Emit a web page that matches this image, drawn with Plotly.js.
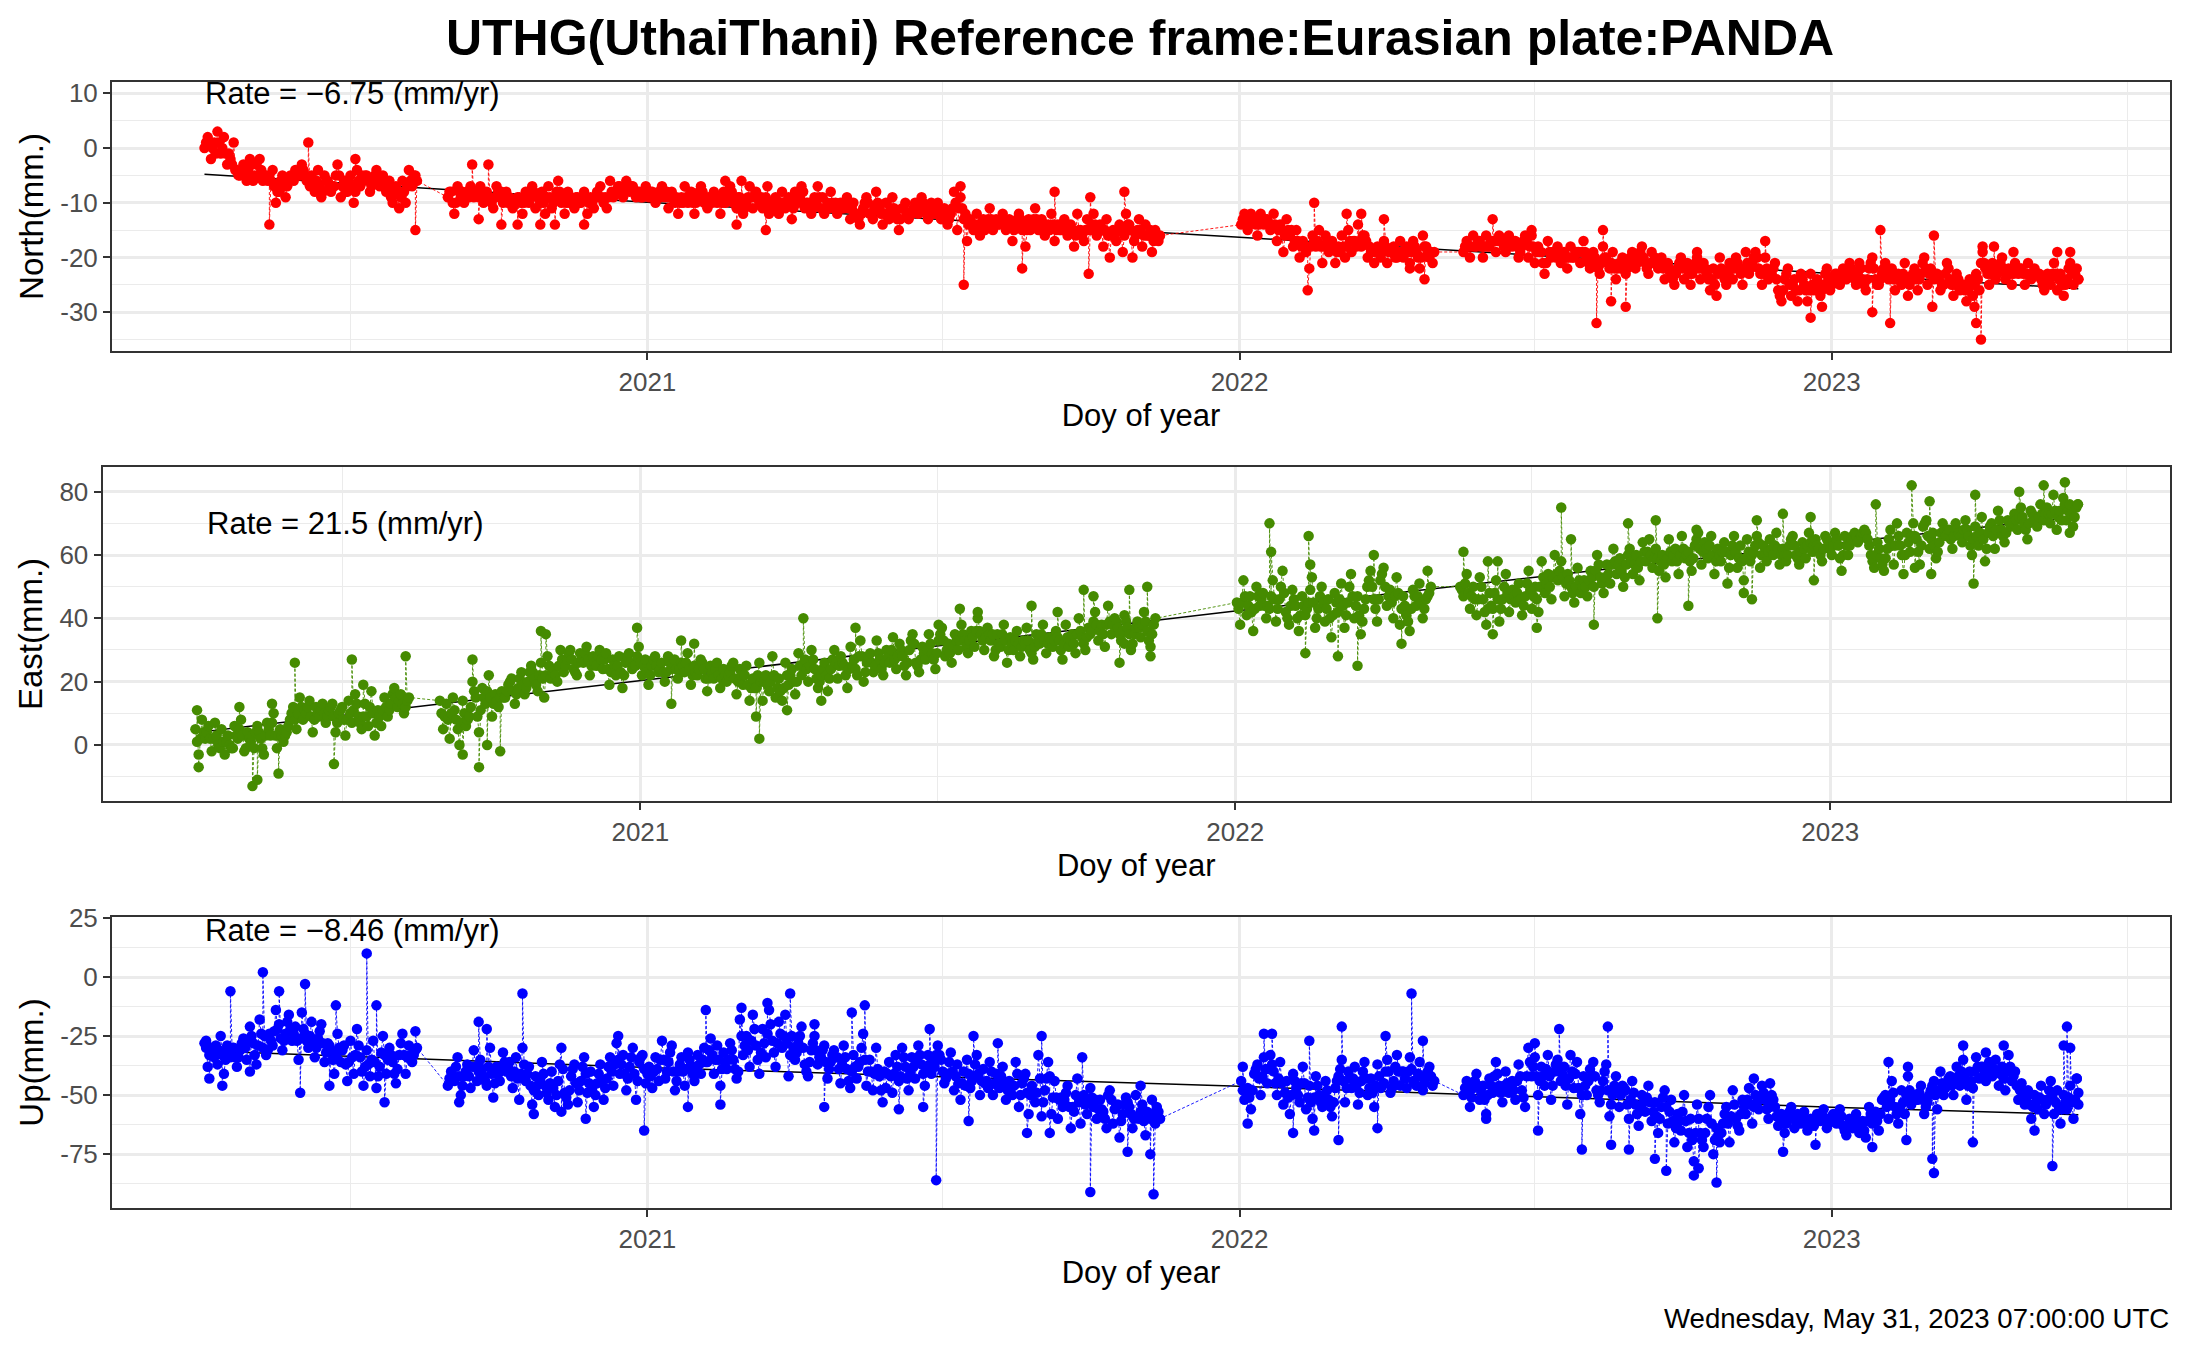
<!DOCTYPE html>
<html><head><meta charset="utf-8">
<script src="https://cdn.plot.ly/plotly-3.0.1.min.js"></script>
<style>html,body{margin:0;padding:0;background:#fff}</style></head>
<body><div id="chart" style="width:2187px;height:1350px"></div>
<script>
// x values: day number counted from 2020-01-01 = day 1
const days = [
93,95,97,99,101,103,105,107,109,111,
113,115,117,119,121,123,125,127,129,131,
133,135,137,139,141,143,145,147,149,151,
153,155,157,159,161,163,165,167,169,171,
173,175,177,179,181,183,185,187,189,191,
193,195,197,199,201,203,205,207,209,211,
213,215,217,219,221,223,
243,245,247,249,251,253,255,257,259,261,
263,265,267,269,271,273,275,277,279,281,
283,285,287,289,291,293,295,297,299,301,
303,305,307,309,311,313,315,317,319,321,
323,325,327,329,331,333,335,337,339,341,
343,345,347,349,351,353,355,357,359,361,
363,365,367,369,371,373,375,377,379,381,
383,385,387,389,391,393,395,397,399,401,
403,405,407,409,411,413,415,417,419,421,
423,425,427,429,431,433,435,437,439,441,
443,445,447,449,451,453,455,457,459,461,
463,465,467,469,471,473,475,477,479,481,
483,485,487,489,491,493,495,497,499,501,
503,505,507,509,511,513,515,517,519,521,
523,525,527,529,531,533,535,537,539,541,
543,545,547,549,551,553,555,557,559,561,
563,565,567,569,571,573,575,577,579,581,
583,585,587,589,591,593,595,597,599,601,
603,605,607,609,611,613,615,617,619,621,
623,625,627,629,631,633,635,637,639,641,
643,645,647,649,651,653,655,657,659,661,
663,665,667,669,671,673,675,677,679,681,
732,734,736,738,740,742,744,746,748,750,
752,754,756,758,760,762,764,766,768,770,
772,774,776,778,780,782,784,786,788,790,
792,794,796,798,800,802,804,806,808,810,
812,814,816,818,820,822,824,826,828,830,
832,834,836,838,840,842,844,846,848,850,
869,871,873,875,877,879,881,883,885,887,
889,891,893,895,897,899,901,903,905,907,
909,911,913,915,917,919,921,923,925,927,
929,931,933,935,937,939,941,943,945,947,
949,951,953,955,957,959,961,963,965,967,
969,971,973,975,977,979,981,983,985,987,
989,991,993,995,997,999,1001,1003,1005,1007,
1009,1011,1013,1015,1017,1019,1021,1023,1025,1027,
1029,1031,1033,1035,1037,1039,1041,1043,1045,1047,
1049,1051,1053,1055,1057,1059,1061,1063,1065,1067,
1069,1071,1073,1075,1077,1079,1081,1083,1085,1087,
1089,1091,1093,1095,1097,1099,1101,1103,1105,1107,
1109,1111,1113,1115,1117,1119,1121,1123,1125,1127,
1129,1131,1133,1135,1137,1139,1141,1143,1145,1147,
1149,1151,1153,1155,1157,1159,1161,1163,1165,1167,
1169,1171,1173,1175,1177,1179,1181,1183,1185,1187,
1189,1191,1193,1195,1197,1199,1201,1203,1205,1207,
1209,1211,1213,1215,1217,1219,1221,1223,1225,1227,
1229,1231,1233,1235,1237,1239,1241,1243,1245,1247];

const north = [
0,2,-2,1,3,-1,2,-3,-2,1,
-4,-5,-3,-6,-2,-6,-3,-2,-6,-5,
-5,-4,-10,-8,-5,-9,-6,-5,-4,-5,
-3,-5,-6,-5,-8,-4,-9,-5,-6,-8,
-7,-3,-9,-6,-8,-5,-10,-4,-7,-6,
-5,-8,-6,-4,-7,-5,-8,-6,-10,-7,
-11,-6,-10,-4,-7,-5,
-9,-8,-12,-7,-9,-10,-8,-7,-9,-8,
-7,-10,-8,-9,-11,-7,-9,-10,-8,-9,
-11,-10,-9,-12,-8,-10,-7,-11,-9,-8,
-12,-7,-11,-9,-6,-10,-12,-8,-9,-11,
-9,-10,-8,-12,-9,-11,-8,-7,-10,-11,
-6,-9,-8,-7,-9,-6,-8,-7,-9,-8,
-9,-7,-9,-8,-10,-8,-7,-9,-11,-8,
-10,-12,-9,-7,-10,-8,-12,-9,-7,-10,
-11,-9,-8,-10,-12,-8,-9,-7,-10,-11,
-9,-12,-10,-7,-11,-8,-10,-11,-9,-12,
-10,-9,-12,-8,-11,-9,-13,-8,-10,-7,
-11,-10,-12,-9,-7,-11,-12,-10,-8,-11,
-12,-10,-11,-9,-13,-10,-12,-14,-11,-9,
-12,-13,-8,-11,-14,-10,-13,-9,-12,-15,
-11,-10,-13,-12,-10,-12,-9,-11,-13,-10,
-12,-10,-13,-11,-14,-12,-8,-15,-9,-13,
-17,-13,-15,-12,-16,-13,-14,-11,-15,-13,
-14,-12,-15,-13,-17,-14,-12,-15,-18,-13,
-14,-11,-15,-13,-16,-14,-12,-17,-14,-15,
-13,-16,-14,-18,-12,-15,-17,-13,-15,-12,
-16,-14,-18,-13,-20,-15,-17,-14,-19,-12,
-14,-20,-16,-13,-18,-14,-16,-19,-15,-17,
-14,-12,-15,-12,-13,-16,-12,-14,-13,-15,
-12,-17,-14,-19,-13,-16,-18,-15,-20,-17,
-19,-22,-16,-18,-15,-21,-16,-19,-17,-21,
-18,-16,-20,-15,-19,-17,-14,-18,-16,-20,
-19,-21,-18,-20,-17,-21,-19,-18,-20,-17,
-20,-18,-21,-17,-19,-22,-16,-18,-20,-21,
-19,-17,-20,-16,-18,-17,-20,-16,-18,-17,
-19,-16,-17,-19,-16,-18,-17,-20,-18,-16,
-20,-16,-21,-18,-19,-23,-17,-20,-19,-18,
-21,-19,-22,-18,-20,-19,-21,-17,-20,-22,
-19,-21,-23,-18,-20,-22,-19,-24,-21,-20,
-23,-21,-19,-22,-20,-18,-21,-23,-19,-20,
-22,-20,-24,-21,-23,-25,-22,-20,-24,-21,
-25,-22,-20,-24,-21,-23,-26,-22,-27,-20,
-23,-25,-21,-24,-20,-22,-25,-19,-23,-21,
-19,-22,-25,-20,-24,-23,-21,-26,-28,-24,
-22,-27,-24,-28,-23,-25,-28,-23,-26,-24,
-27,-25,-22,-26,-24,-23,-25,-22,-24,-21,
-23,-25,-21,-24,-26,-22,-20,-24,-25,-23,
-21,-24,-22,-26,-23,-25,-21,-27,-24,-22,
-26,-23,-20,-25,-22,-24,-23,-26,-25,-21,
-24,-27,-23,-26,-25,-28,-24,-27,-23,-26,
-19,-22,-25,-21,-24,-22,-20,-24,-22,-25,
-21,-23,-22,-25,-21,-24,-22,-23,-24,-26,
-23,-25,-21,-26,-23,-27,-24,-21,-25,-22];

const east = [
5,-3,8,2,6,-2,7,0,5,-3,
3,-1,6,2,8,-2,4,1,-1,6,
2,-3,7,3,10,-1,5,1,4,8,
12,5,15,8,10,14,4,12,9,13,
7,11,13,4,10,12,3,14,7,16,
9,5,13,6,17,3,11,6,15,9,
13,18,12,16,10,14,
14,5,13,2,15,8,0,14,6,9,
20,15,4,18,13,22,9,16,12,17,
15,19,21,13,18,23,16,20,25,21,
17,26,15,28,21,24,20,30,23,27,
30,24,22,29,26,31,22,28,25,30,
24,29,19,27,22,28,18,26,29,24,
25,31,22,27,19,25,28,23,26,20,
28,24,27,21,26,23,29,19,25,22,
27,24,17,25,21,26,18,24,20,23,
26,16,24,19,25,14,21,18,26,14,
22,17,28,15,21,14,26,19,24,16,
29,22,27,20,30,24,18,22,26,17,
24,30,21,28,25,18,31,27,22,33,
20,26,29,23,33,27,22,30,26,34,
24,32,28,22,30,35,26,23,31,27,
35,29,24,33,37,28,32,26,35,30,
38,33,29,36,31,40,35,30,37,33,
28,35,31,38,26,34,30,36,28,33,
37,30,27,35,32,38,29,34,31,36,
33,27,38,31,35,29,40,34,30,37,
36,42,33,38,31,44,35,40,37,33,
41,37,30,35,39,34,42,36,31,38,
45,38,52,41,47,36,50,44,48,40,
43,52,39,46,55,42,38,49,44,36,
47,41,45,53,37,43,50,39,46,34,
48,42,51,37,45,54,40,47,35,43,
50,55,46,39,52,56,44,49,40,53,
38,47,41,36,49,44,51,40,46,48,
50,47,54,43,50,41,53,46,38,48,
43,52,39,46,54,42,49,45,51,41,
47,55,43,50,42,58,48,54,46,60,
52,58,47,54,50,45,56,48,52,47,
55,50,60,53,48,57,51,62,54,59,
50,57,62,54,60,52,64,58,65,56,
62,55,60,53,65,58,62,54,66,59,
61,55,63,67,57,64,59,66,54,62,
58,64,51,60,66,56,63,52,65,58,
61,66,56,63,58,65,60,67,57,62,
58,63,66,60,57,64,59,67,61,65,
62,58,66,64,60,67,63,55,66,60,
65,67,64,66,68,65,60,56,64,59,
55,62,68,57,70,63,54,67,61,70,
65,57,69,71,62,67,59,64,70,66,
68,62,70,67,64,71,66,60,69,63,
72,58,67,70,62,74,68,64,71,69,
73,68,75,70,65,74,72,69,76,71,
75,70,79,68,74,78,71,76,69,75];

const up = [
-28,-38,-30,-34,-37,-25,-41,-29,-34,-30,
-38,-31,-26,-35,-21,-28,-37,-18,-30,-33,
-24,-29,-14,-20,-31,-24,-16,-27,-21,-35,
-15,-24,-30,-19,-34,-26,-20,-36,-28,-31,
-41,-24,-36,-29,-44,-27,-41,-22,-34,-46,
-31,-42,-27,-47,-38,-25,-41,-30,-36,-45,
-33,-24,-41,-29,-36,-31,
-46,-40,-44,-34,-50,-42,-37,-47,-31,-44,
-35,-42,-46,-30,-51,-38,-44,-32,-40,-36,
-47,-34,-52,-30,-44,-38,-54,-42,-50,-36,
-46,-52,-40,-55,-44,-30,-49,-54,-42,-37,
-53,-44,-34,-49,-40,-55,-45,-37,-52,-43,
-34,-46,-28,-41,-33,-48,-38,-30,-52,-36,
-33,-45,-38,-47,-34,-44,-27,-43,-36,-29,
-48,-40,-34,-46,-32,-38,-44,-33,-41,-30,
-36,-26,-41,-29,-46,-32,-39,-28,-35,-43,
-18,-33,-25,-38,-16,-29,-41,-22,-34,-14,
-27,-38,-19,-30,-16,-42,-25,-35,-28,-21,
-37,-42,-31,-25,-37,-34,-29,-43,-36,-31,
-34,-45,-29,-39,-47,-33,-43,-36,-24,-46,
-35,-48,-30,-42,-53,-47,-36,-49,-33,-44,
-30,-38,-48,-34,-43,-29,-37,-46,-33,-41,
-38,-29,-35,-45,-41,-32,-48,-37,-52,-40,
-35,-47,-42,-33,-50,-39,-44,-36,-50,-41,
-47,-38,-52,-44,-50,-36,-55,-45,-41,-58,
-46,-53,-33,-59,-48,-36,-58,-44,-60,-51,
-52,-46,-64,-57,-43,-62,-50,-58,-47,-55,
-60,-52,-57,-64,-48,-62,-55,-68,-58,-51,
-55,-64,-50,-60,-54,-67,-58,-52,-62,-57,
-44,-52,-47,-56,-41,-37,-50,-34,-45,-33,
-40,-50,-36,-54,-44,-58,-41,-47,-53,-38,
-56,-46,-60,-42,-50,-55,-44,-52,-59,-47,
-42,-35,-53,-40,-47,-38,-54,-44,-36,-50,
-43,-55,-37,-47,-45,-35,-49,-44,-33,-46,
-40,-47,-34,-44,-46,-36,-48,-42,-38,-46,
-50,-44,-55,-47,-41,-52,-46,-58,-43,-49,
-36,-46,-53,-40,-49,-44,-52,-37,-48,-55,
-30,-42,-34,-50,-38,-46,-33,-52,-40,-35,
-44,-38,-54,-33,-47,-36,-58,-42,-50,-39,
-36,-48,-53,-44,-37,-59,-50,-42,-55,-46,
-48,-60,-44,-54,-63,-50,-57,-46,-61,-53,
-66,-55,-48,-62,-52,-70,-58,-65,-50,-72,
-60,-78,-54,-66,-72,-60,-50,-75,-64,-70,
-62,-55,-70,-48,-60,-65,-52,-58,-47,-62,
-50,-56,-46,-52,-60,-50,-55,-63,-58,-66,
-60,-55,-64,-58,-62,-57,-65,-60,-63,-58,
-61,-56,-64,-60,-58,-62,-56,-63,-67,-60,
-64,-58,-66,-61,-68,-55,-62,-57,-65,-52,
-50,-60,-44,-55,-62,-48,-58,-42,-54,-50,
-52,-46,-58,-53,-48,-44,-56,-40,-50,-45,
-42,-50,-38,-46,-35,-52,-40,-47,-34,-43,
-38,-44,-36,-42,-35,-46,-38,-48,-33,-44,
-40,-52,-45,-54,-48,-60,-50,-56,-46,-58,
-52,-44,-58,-48,-62,-50,-56,-46,-60,-43];

// Readings for the days in between
const north2 = [
1,1,0,-1,1,0,-1,-1,-3,-4,
-5,-4,-5,-4,-3,-5,-5,-4,-5,-6,
-6,-7,-8,-6,-7,-7,-5,-6,-5,-5,
-4,-6,-7,-6,-6,-7,-8,-6,-7,-7,
-5,-5,-7,-8,-6,-7,-8,-6,-5,-5,
-6,-7,-5,-6,-6,-7,-7,-9,-8,-8,
-9,-8,-7,-6,-5,-6,
-8,-10,-10,-8,-8,-9,-9,-8,-8,-9,
-8,-9,-9,-10,-9,-8,-8,-9,-10,-10,
-10,-9,-10,-10,-9,-9,-8,-9,-10,-10,
-9,-9,-10,-8,-8,-9,-10,-10,-10,-9,
-10,-9,-9,-10,-10,-9,-9,-9,-9,-9,
-8,-8,-7,-8,-8,-7,-7,-8,-8,-9,
-8,-8,-8,-9,-9,-9,-8,-8,-9,-9,
-9,-10,-10,-9,-9,-10,-10,-8,-8,-9,
-9,-10,-9,-9,-10,-10,-8,-8,-9,-9,
-10,-11,-9,-9,-9,-9,-9,-10,-10,-11,
-11,-11,-10,-10,-10,-10,-11,-9,-9,-8,
-10,-11,-11,-10,-9,-9,-11,-11,-10,-10,
-11,-11,-10,-11,-11,-12,-13,-12,-10,-10,
-12,-11,-10,-12,-12,-12,-11,-11,-13,-13,
-11,-12,-12,-11,-11,-11,-10,-12,-11,-11,
-11,-11,-12,-12,-13,-11,-10,-11,-11,-12,
-14,-14,-14,-14,-15,-15,-13,-13,-14,-14,
-13,-13,-14,-14,-15,-13,-13,-14,-15,-15,
-13,-13,-14,-14,-15,-15,-14,-15,-15,-14,
-14,-15,-15,-16,-15,-16,-15,-15,-14,-14,
-15,-15,-15,-16,-16,-16,-15,-15,-16,-14,
-15,-17,-15,-15,-16,-16,-15,-17,-16,-16,
-13,-13,-14,-13,-14,-14,-13,-13,-14,-14,
-14,-15,-15,-16,-15,-15,-17,-17,-18,-18,
-18,-18,-17,-17,-18,-18,-17,-18,-18,-19,
-19,-18,-18,-17,-17,-18,-17,-16,-17,-18,
-19,-19,-19,-19,-18,-19,-19,-20,-19,-19,
-19,-19,-19,-18,-20,-20,-18,-19,-19,-19,
-18,-18,-18,-18,-17,-18,-18,-18,-17,-17,
-17,-17,-18,-18,-17,-17,-18,-19,-17,-17,
-18,-18,-19,-19,-21,-21,-19,-19,-20,-20,
-20,-20,-20,-20,-19,-19,-19,-19,-21,-21,
-20,-22,-21,-20,-21,-21,-22,-22,-22,-22,
-22,-20,-20,-21,-19,-20,-22,-21,-21,-21,
-21,-22,-22,-22,-24,-23,-21,-22,-22,-23,
-23,-21,-22,-22,-22,-24,-24,-25,-23,-22,
-24,-23,-22,-22,-21,-23,-22,-21,-22,-20,
-20,-23,-23,-22,-23,-22,-24,-27,-26,-23,
-25,-25,-26,-26,-24,-26,-26,-25,-25,-25,
-26,-23,-24,-25,-23,-24,-23,-23,-22,-22,
-24,-23,-22,-25,-24,-21,-22,-25,-24,-22,
-22,-23,-24,-24,-24,-23,-24,-25,-23,-24,
-24,-21,-22,-23,-23,-23,-24,-25,-23,-22,
-25,-25,-24,-25,-26,-26,-25,-25,-24,-21,
-21,-23,-23,-22,-23,-21,-22,-23,-23,-23,
-22,-22,-23,-23,-23,-23,-23,-23,-25,-24,
-24,-23,-23,-24,-25,-25,-22,-23,-23,-24];

const east2 = [
1,2,4,4,2,2,3,-1,1,1,
0,-1,3,5,3,-1,2,3,4,4,
-1,3,5,7,3,3,3,3,6,10,
8,10,12,11,12,9,8,10,11,10,
9,12,9,7,11,8,8,10,11,13,
7,9,9,12,10,7,9,11,12,11,
16,15,14,13,12,15,
10,9,8,10,11,5,7,10,8,12,
17,9,11,15,17,15,13,14,15,15,
17,20,17,16,21,19,18,23,23,19,
22,21,22,25,23,22,25,27,25,29,
27,23,26,27,29,27,25,26,28,27,
27,24,23,25,25,23,22,28,26,25,
28,26,25,23,22,27,25,24,23,23,
26,26,24,24,25,26,24,22,23,24,
26,21,21,23,24,22,21,22,22,25,
21,20,22,22,19,18,18,22,20,20,
19,20,22,18,17,18,22,22,20,20,
25,25,24,25,27,21,20,24,22,21,
27,26,25,26,22,24,25,24,28,28,
23,28,26,25,29,24,26,28,30,27,
28,30,25,26,33,32,25,27,29,30,
32,27,29,35,33,30,29,31,33,33,
35,31,33,34,36,36,33,34,35,35,
30,32,35,33,30,32,33,32,31,32,
33,29,31,33,35,33,32,33,33,34,
30,32,34,33,32,35,36,32,34,35,
39,38,36,35,38,39,38,39,35,36,
39,35,32,37,37,38,39,33,35,40,
43,45,47,44,42,43,47,46,44,44,
47,46,43,50,48,40,44,46,40,41,
44,43,49,45,40,47,45,43,40,41,
45,46,44,41,50,47,44,41,39,46,
52,50,43,46,54,50,47,45,47,48,
43,44,39,43,47,47,45,43,47,50,
49,51,48,47,46,46,50,42,43,44,
48,46,43,50,48,46,47,48,46,44,
51,49,47,46,50,53,51,50,53,54,
55,53,51,52,48,50,52,50,50,52,
53,55,57,51,53,54,57,58,57,55,
53,60,58,57,56,58,61,61,60,59,
59,58,57,59,61,60,58,60,62,60,
58,59,65,62,61,62,63,60,58,60,
61,61,56,63,61,59,58,59,61,60,
63,64,60,60,61,62,63,62,60,60,
60,65,63,59,61,62,63,64,63,63,
60,62,65,62,63,65,59,60,63,63,
66,66,65,67,67,63,58,60,62,57,
59,65,63,63,66,60,60,64,66,66,
61,63,70,66,65,63,61,67,68,68,
65,66,68,66,68,68,63,65,66,67,
65,62,69,66,68,71,66,67,70,70,
71,72,72,68,70,73,71,72,73,73,
73,73,74,72,71,76,74,73,72,76];

const up2 = [
-30,-33,-32,-29,-31,-33,-35,-31,-30,-34,
-34,-28,-30,-27,-25,-33,-29,-24,-25,-31,
-27,-23,-22,-26,-27,-19,-22,-24,-27,-26,
-22,-27,-25,-27,-30,-23,-28,-32,-29,-35,
-33,-30,-31,-37,-36,-34,-33,-29,-40,-38,
-37,-35,-36,-42,-32,-33,-35,-33,-41,-39,
-28,-33,-34,-33,-33,-30,
-43,-42,-38,-42,-46,-40,-42,-38,-38,-40,
-39,-44,-38,-41,-45,-41,-38,-36,-38,-42,
-40,-43,-41,-37,-41,-46,-48,-46,-43,-41,
-49,-45,-47,-50,-37,-39,-51,-48,-39,-45,
-48,-38,-41,-45,-47,-50,-41,-44,-47,-38,
-40,-37,-35,-37,-41,-43,-34,-41,-44,-34,
-39,-41,-42,-40,-39,-35,-35,-40,-32,-40,
-44,-37,-40,-39,-35,-41,-38,-37,-35,-36,
-31,-33,-35,-35,-39,-36,-35,-31,-39,-40,
-25,-29,-31,-27,-22,-35,-32,-28,-24,-20,
-32,-28,-24,-25,-28,-33,-30,-32,-25,-30,
-40,-36,-28,-31,-34,-31,-36,-39,-33,-34,
-39,-37,-34,-44,-40,-38,-38,-30,-35,-40,
-40,-41,-39,-48,-40,-41,-42,-41,-38,-42,
-34,-43,-41,-38,-36,-33,-41,-39,-37,-36,
-33,-33,-40,-43,-36,-40,-42,-45,-45,-46,
-41,-44,-37,-41,-44,-45,-47,-40,-45,-46,
-42,-45,-48,-47,-46,-41,-50,-43,-49,-50,
-49,-49,-43,-53,-43,-42,-51,-51,-52,-55,
-49,-55,-55,-50,-53,-52,-54,-52,-51,-52,
-56,-56,-60,-50,-52,-56,-54,-61,-54,-53,
-58,-60,-59,-57,-61,-57,-60,-58,-55,-60,
-48,-49,-51,-48,-39,-43,-42,-39,-39,-37,
-45,-43,-45,-49,-51,-50,-44,-50,-45,-45,
-51,-53,-51,-46,-53,-50,-48,-55,-53,-44,
-39,-44,-47,-43,-43,-46,-49,-40,-43,-47,
-49,-46,-42,-46,-40,-40,-47,-38,-40,-40,
-43,-40,-39,-45,-41,-42,-45,-40,-42,-44,
-47,-49,-51,-44,-46,-49,-52,-50,-46,-42,
-41,-49,-46,-45,-47,-48,-44,-42,-51,-42,
-36,-38,-42,-44,-42,-39,-42,-46,-37,-40,
-41,-46,-43,-40,-41,-47,-50,-46,-44,-42,
-42,-50,-48,-40,-48,-54,-46,-48,-50,-47,
-54,-52,-49,-58,-56,-53,-51,-53,-57,-59,
-60,-51,-55,-57,-61,-64,-61,-57,-61,-66,
-69,-66,-60,-69,-66,-55,-62,-69,-67,-66,
-58,-62,-59,-54,-63,-58,-55,-52,-54,-55,
-53,-51,-49,-56,-55,-52,-59,-60,-62,-62,
-57,-60,-61,-60,-59,-61,-62,-61,-61,-60,
-58,-60,-62,-59,-60,-59,-59,-65,-63,-62,
-61,-62,-63,-65,-61,-58,-59,-61,-58,-51,
-55,-52,-49,-58,-55,-53,-50,-48,-52,-52,
-49,-52,-55,-50,-46,-50,-48,-45,-47,-43,
-46,-44,-42,-40,-43,-46,-44,-40,-38,-38,
-41,-41,-39,-39,-40,-41,-43,-40,-38,-42,
-46,-48,-49,-51,-54,-55,-53,-51,-52,-54,
-48,-51,-53,-55,-56,-53,-51,-53,-52,-49];

// Isolated points
const northPeakDays = [133,157,186,223,258,262,268,276,286,300,309,327,414,421,424,439,440,561,559,597,617,638,639,660,773,777,797,806,820,836,845,887,911,951,955,960,969,1013,1055,1083,1090,1121,1126,1132,1158,1159,1184,1185,1188,1189,1196,1208,1235,1243,1248];
const northPeaks = [-14,1,-2,-15,-3,-13,-3,-14,-14,-14,-14,-14,-6,-14,-6,-15,-7,-25,-7,-22,-8,-23,-9,-8,-26,-10,-12,-12,-13,-22,-24,-13,-15,-32,-15,-28,-29,-19,-17,-31,-29,-30,-15,-32,-29,-16,-29,-32,-35,-18,-18,-19,-19,-19,-24];

const eastPeakDays = [94,95,120,128,131,140,144,154,178,189,196,222,257,263,267,272,280,305,308,364,385,391,399,437,439,456,466,477,498,549,562,573,606,622,638,644,660,663,666,677,679,752,753,774,776,777,794,806,816,833,849,871,886,889,892,916,931,937,951,972,989,990,1009,1014,1043,1048,1051,1067,1084,1086,1124,1146,1148,1157,1158,1184,1185,1212,1227,1240,1243,1248];
const eastPeaks = [11,-7,12,-13,-11,13,-9,26,-6,27,19,28,-3,27,-7,0,-2,36,35,37,13,33,32,9,2,11,40,14,37,38,43,42,44,42,49,47,26,32,49,50,28,70,61,29,66,57,28,25,60,32,55,61,58,35,58,37,75,65,38,70,71,40,44,68,48,46,71,73,72,52,76,82,56,77,54,51,79,80,82,83,67,76];

const upPeakDays = [94,96,104,109,129,121,139,155,152,174,170,193,199,204,223,250,262,267,289,296,313,328,348,364,391,402,411,424,440,454,469,492,500,475,521,540,544,536,567,582,564,609,600,614,639,634,678,676,662,670,733,736,746,751,764,774,777,792,794,816,821,837,844,883,913,915,928,942,958,960,971,987,994,1011,1014,1025,1048,1058,1066,1086,1121,1131,1143,1142,1158,1159,1177,1183,1202,1191,1221,1232,1239,1241,1243,1247,1248];
const upPeaks = [-27,-43,-46,-6,2,-40,-6,-3,-49,-12,-46,10,-12,-53,-23,-53,-19,-22,-7,-58,-57,-60,-25,-65,-55,-14,-54,-13,-11,-7,-20,-15,-12,-55,-56,-22,-86,-55,-25,-28,-61,-25,-66,-66,-91,-34,-92,-75,-74,-46,-38,-62,-24,-24,-66,-27,-65,-69,-21,-64,-25,-7,-27,-60,-28,-65,-22,-73,-21,-71,-73,-77,-82,-84,-81,-87,-43,-45,-74,-71,-72,-36,-38,-69,-77,-83,-29,-70,-29,-32,-65,-80,-29,-21,-30,-43,-54];

const trendDays = [93,366,731,1096,1248];
const northTrend = [-4.8,-9.9,-16.3,-22.9,-25.7];
const eastTrend = [3.9,20.4,42.3,63.5,72.1];
const upTrend = [-31.3,-38.3,-46.3,-55.1,-58.3];

const xTickDays = [366,731,1096];
const xTickText = ['2021','2022','2023'];
const xMinorDays = [183,548,913,1278];
const xRange = [36,1304.5];

const W=2187,H=1350,M={l:100,r:17,t:80,b:142};
const PW=W-M.l-M.r,PH=H-M.t-M.b;
const xd=(a,b)=>[(a-M.l)/PW,(b-M.l)/PW];
const yd=(top,bot)=>[(H-M.b-bot)/PH,(H-M.b-top)/PH];
const px=x=>(x-M.l)/PW, py=y=>(H-M.b-y)/PH;

const nextDays=days.map(d=>d+1);
function merged(a,b,e,f,c,d){
  const r=[];
  for(let i=0;i<Math.min(a.length,b.length);i++) r.push([a[i],b[i]]);
  for(let i=0;i<Math.min(e.length,f.length);i++) r.push([e[i],f[i]]);
  for(let i=0;i<Math.min(c.length,d.length);i++) r.push([c[i],d[i]]);
  r.sort((p,q)=>p[0]-q[0]);
  return {x:r.map(p=>p[0]),y:r.map(p=>p[1])};
}
const N=merged(days,north,nextDays,north2,northPeakDays,northPeaks);
const E=merged(days,east,nextDays,east2,eastPeakDays,eastPeaks);
const U=merged(days,up,nextDays,up2,upPeakDays,upPeaks);

const series=(s,color,name,ax)=>({type:'scatter',mode:'lines+markers',name:name,x:s.x,y:s.y,xaxis:'x'+ax,yaxis:'y'+ax,
  line:{color:color,width:0.9,dash:'3px,2px'},marker:{color:color,size:10.5,line:{width:0}},showlegend:false});
const trend=(y,ax)=>({type:'scatter',mode:'lines',name:'Trend',x:trendDays,y:y,xaxis:'x'+ax,yaxis:'y'+ax,
  line:{color:'#000000',width:1.5},showlegend:false});

const data=[trend(northTrend,''),series(N,'#FF0000','North',''),
            trend(eastTrend,'2'),series(E,'#458B00','East','2'),
            trend(upTrend,'3'),series(U,'#0000FF','Up','3')];

const FONT='"Liberation Sans",Arial,sans-serif';
const xAxis=(dom,anchor)=>({domain:dom,anchor:anchor,range:xRange,tickmode:'array',tickvals:xTickDays,ticktext:xTickText,
  ticks:'outside',ticklen:7,tickwidth:2,tickcolor:'#333333',tickfont:{family:FONT,size:26,color:'#4D4D4D'},
  showline:true,mirror:true,linecolor:'#333333',linewidth:2,showgrid:true,gridcolor:'#EBEBEB',gridwidth:2.8,zeroline:false,
  minor:{tickmode:'array',tickvals:xMinorDays,showgrid:true,gridcolor:'#EBEBEB',gridwidth:1.4,ticks:''},
  title:{text:'Doy of year',font:{family:FONT,size:31,color:'#000'},standoff:8}});
const yAxis=(dom,anchor,range,vals,minorVals,title)=>({domain:dom,anchor:anchor,range:range,tickmode:'array',tickvals:vals,ticktext:vals.map(String),
  ticks:'outside',ticklen:7,tickwidth:2,tickcolor:'#333333',tickfont:{family:FONT,size:26,color:'#4D4D4D'},
  showline:true,mirror:true,linecolor:'#333333',linewidth:2,showgrid:true,gridcolor:'#EBEBEB',gridwidth:2.8,zeroline:false,
  minor:{tickmode:'array',tickvals:minorVals,showgrid:true,gridcolor:'#EBEBEB',gridwidth:1.4,ticks:''},
  title:{text:title,font:{family:FONT,size:33,color:'#000'},standoff:7}});

const rate=(t,x,y)=>({text:t,xref:'paper',yref:'paper',x:px(x),y:py(y),xanchor:'left',yanchor:'middle',showarrow:false,
  font:{family:FONT,size:31,color:'#000'}});

const layout={width:W,height:H,margin:M,paper_bgcolor:'#fff',plot_bgcolor:'#fff',showlegend:false,
  title:{text:'<b>UTHG(UthaiThani) Reference frame:Eurasian plate:PANDA</b>',font:{family:FONT,size:50,color:'#000'},
    xref:'container',yref:'container',x:1140/W,y:1-37/H,xanchor:'center',yanchor:'middle'},
  xaxis:xAxis(xd(112,2170),'y'),
  yaxis:yAxis(yd(82,351),'x',[-37.1,12.07],[-30,-20,-10,0,10],[-35,-25,-15,-5,5],'North(mm.)'),
  xaxis2:xAxis(xd(102.5,2170),'y2'),
  yaxis2:yAxis(yd(467,801),'x2',[-17.7,87.8],[0,20,40,60,80],[-10,10,30,50,70],'East(mm.)'),
  xaxis3:xAxis(xd(112,2170),'y3'),
  yaxis3:yAxis(yd(917,1208),'x3',[-97.8,25.4],[-75,-50,-25,0,25],[-87.5,-62.5,-37.5,-12.5,12.5],'Up(mm.)'),
  annotations:[
    rate('Rate = −6.75 (mm/yr)',203,93.5),
    rate('Rate = 21.5 (mm/yr)',205,523),
    rate('Rate = −8.46 (mm/yr)',203,930.5),
    {text:'Wednesday, May 31, 2023 07:00:00 UTC',xref:'paper',yref:'paper',x:px(2171),y:py(1318),xanchor:'right',yanchor:'middle',showarrow:false,
     font:{family:FONT,size:27.6,color:'#000'}}
  ]};
Plotly.newPlot('chart',data,layout,{displayModeBar:false,responsive:false});
</script></body></html>
